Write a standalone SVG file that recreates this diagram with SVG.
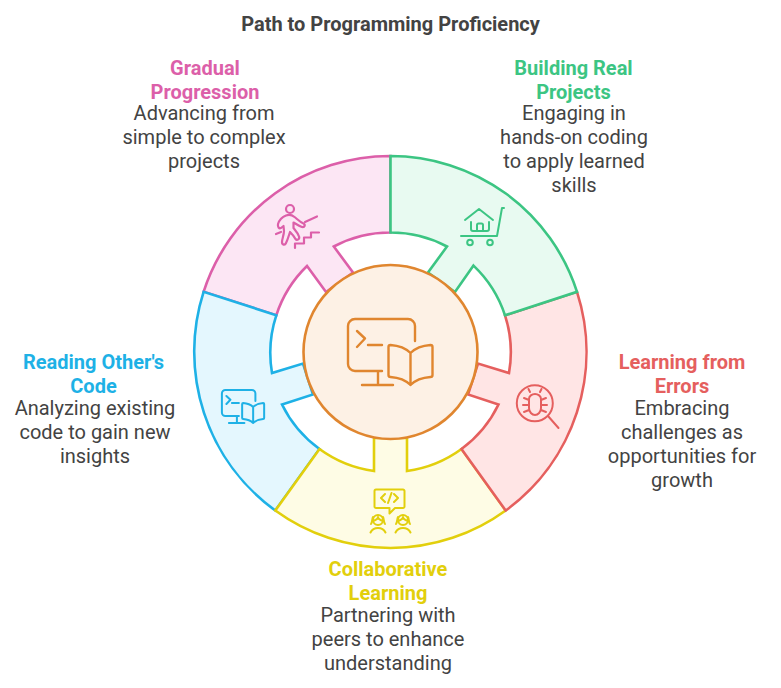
<svg xmlns="http://www.w3.org/2000/svg" width="781" height="688" viewBox="0 0 781 688">
<style>
text{font-family:Roboto,"Liberation Sans",sans-serif;text-anchor:middle}
.t{font-size:20px;font-weight:700;fill:#434343}
.b{font-size:20px;fill:#434343}
.h{font-size:20px;font-weight:700}
.seg{stroke-width:2.6;stroke-linejoin:miter}
.ic{fill:none;stroke-linecap:round;stroke-linejoin:round;stroke-width:2}
.pk{fill:#fce6f4;stroke:#dc5fa9}.gr{fill:#e8faf1;stroke:#3cc583}.rd{fill:#ffe5e5;stroke:#e55f5e}.yl{fill:#fefce5;stroke:#e2cf0c}.bl{fill:#e4f7fe;stroke:#1eb1e6}
</style>
<defs>
<g id="code-book">
<path d="M382 345H368M357 331l8 7.500-8 8.500M415 341V326a7 7 0 0 0-7-7H355a7 7 0 0 0-7 7v38a7 7 0 0 0 7 7h27M378 371v14M362 385h31"/>
<path d="M410.500 353c-5-5-13-7.500-20-8a2 2 0 0 0-2 2v28a2 2 0 0 0 2 2c7 .5 15 3 20 8 5-5 13-7.500 20-8a2 2 0 0 0 2-2V347a2 2 0 0 0-2-2c-7 .5-15 3-20 8zM410.500 353v32"/>
</g>
</defs>
<text class="t" x="390.500" y="31">Path to Programming Proficiency</text>
<g id="connectors"></g>
<g id="node-progression">
<path class="seg pk" d="M203.600 291.800A196 196 0 0 1 390.500 156V232.500A120 120 0 0 0 333.800 246.500L353 272.500 326 292 307 266A120 120 0 0 0 276.300 315.300Z"/>
<g class="ic" stroke="#dc5fa9" style="stroke-width:2.200">
<circle cx="290" cy="209" r="4"/>
<path d="M305 222l12-5.500M276 234l5-2M295 248v-4.500h9v-6h7v-5h8"/>
<path d="M286 215.500C282 217 279 221 278 224C277.500 227 279 229 281 228L283.500 226L284 231C284 235 282 239 282 242C282 245 285 245.500 286 243C288 239 289 235 290 232C292 234 294 236 295.500 239C297 241 300 239 299 236.500C298 233 295 230 293.500 228L293.500 222.500C296 224 299 226 302 227C305 227.500 305.500 224.500 303.500 223.500C300 222 297 219 294.500 217C292 215 289 214.500 286 215.500Z"/>
</g>
<text class="h" fill="#dc5fa9" x="205" y="75">Gradual</text>
<text class="h" fill="#dc5fa9" x="205" y="99">Progression</text>
<text class="b" x="204" y="120">Advancing from</text>
<text class="b" x="204" y="144">simple to complex</text>
<text class="b" x="204" y="168">projects</text>
</g>
<g id="node-reading">
<path class="seg bl" d="M275.300 510.500A196 196 0 0 1 203.600 291.800L276.300 315.300A120 120 0 0 0 272 373L303 363.500 313 394.500 282 404.500A120 120 0 0 0 319.500 449Z"/>
<g class="ic" stroke="#1eb1e6"><use href="#code-book" transform="translate(47.900 230.500) scale(.5)" style="stroke-width:4"/></g>
<text class="h" fill="#1eb1e6" x="93.500" y="369">Reading Other's</text>
<text class="h" fill="#1eb1e6" x="93.500" y="393">Code</text>
<text class="b" x="95" y="415">Analyzing existing</text>
<text class="b" x="95" y="439">code to gain new</text>
<text class="b" x="95" y="463">insights</text>
</g>
<g id="node-collaborative">
<path class="seg yl" d="M505.700 510.500A196 196 0 0 1 275.300 510.500L319.500 449A120 120 0 0 0 374 471V438H407V471A120 120 0 0 0 461.500 449Z"/>
<g class="ic" stroke="#e2cf0c">
<path d="M389.500 508h-13.500a1.500 1.500 0 0 1-1.500-1.500V491a1.500 1.500 0 0 1 1.500-1.500h27a1.500 1.500 0 0 1 1.500 1.500v15.500a1.500 1.500 0 0 1-1.500 1.500h-8l-5.500 5.500zM385 494l-4 4 4 4M394 494l4 4-4 4M391.500 493l-3.500 10"/>
<circle cx="378" cy="520" r="5"/><circle cx="403" cy="520" r="5"/>
<path d="M371 524c1.500-2 1-5 2-7M385 524c-1.500-2-1-5-2-7M373 521c3-1 5-2 5-4 0 2 2 3 5 4M370.500 532.500c3-6 12-6 15 0M396 524c1.500-2 1-5 2-7M410 524c-1.500-2-1-5-2-7M398 521c3-1 5-2 5-4 0 2 2 3 5 4M395.500 532.500c3-6 12-6 15 0"/>
</g>
<text class="h" fill="#e2cf0c" x="388" y="576">Collaborative</text>
<text class="h" fill="#e2cf0c" x="388" y="600">Learning</text>
<text class="b" x="388" y="622">Partnering with</text>
<text class="b" x="388" y="646">peers to enhance</text>
<text class="b" x="388" y="670">understanding</text>
</g>
<g id="node-errors">
<path class="seg rd" d="M577 291.800A196 196 0 0 1 505.700 510.500L461.500 449A120 120 0 0 0 498.500 404.500L468 394.500 478 363.500 509 373A120 120 0 0 0 505 315.300Z"/>
<g class="ic" stroke="#e55f5e">
<circle cx="534.800" cy="403.300" r="18"/>
<path d="M548 416l10.500 12M529 399c0-3 3-5 6-5s6 2 6 5v9c0 4-3 7-6 7s-6-3-6-7zM530 392l-1.500-3M540 392l1.500-3M529 400l-5-2M541 400l5-2M529 405h-6M541 405h6M529 410l-5 2M541 410l5 2"/>
</g>
<text class="h" fill="#e55f5e" x="682" y="369">Learning from</text>
<text class="h" fill="#e55f5e" x="682" y="393">Errors</text>
<text class="b" x="682" y="415">Embracing</text>
<text class="b" x="682" y="439">challenges as</text>
<text class="b" x="682" y="463">opportunities for</text>
<text class="b" x="682" y="487">growth</text>
</g>
<g id="node-projects">
<path class="seg gr" d="M390.500 156A196 196 0 0 1 577 291.800L505 315.300A120 120 0 0 0 473.500 265.600L455 292 428 272.500 447 246.500A120 120 0 0 0 390.500 232.500Z"/>
<g class="ic" stroke="#3cc583">
<path d="M465 220l14-11 14 11M471 222v7a2 2 0 0 0 2 2h14a2 2 0 0 0 2-2v-7M477 231v-6a1.500 1.500 0 0 1 1.500-1.500h3a1.500 1.500 0 0 1 1.500 1.500v6M461 236h36l5-28h2"/>
<circle cx="470" cy="242.500" r="2.800"/><circle cx="490" cy="242.500" r="2.800"/>
</g>
<text class="h" fill="#3cc583" x="573.500" y="75">Building Real</text>
<text class="h" fill="#3cc583" x="573.500" y="99">Projects</text>
<text class="b" x="574" y="120">Engaging in</text>
<text class="b" x="574" y="144">hands-on coding</text>
<text class="b" x="574" y="168">to apply learned</text>
<text class="b" x="574" y="192">skills</text>
</g>
<g id="node-center">
<circle cx="390.500" cy="352" r="87" fill="#fdf1e5" stroke="#e0862f" stroke-width="2.600"/>
<g class="ic" stroke="#e0862f" style="stroke-width:2.400"><use href="#code-book"/></g>
</g>
</svg>
